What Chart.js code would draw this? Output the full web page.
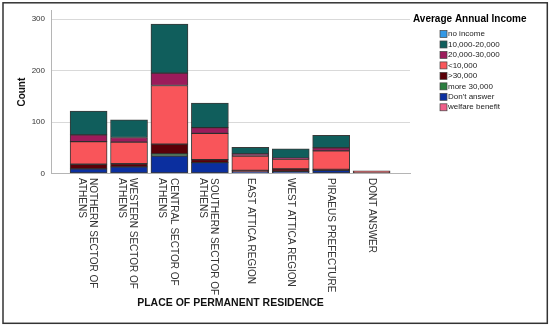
<!DOCTYPE html>
<html>
<head>
<meta charset="utf-8">
<script src="https://cdn.jsdelivr.net/npm/chart.js@4"></script>
<style>
  html, body { margin: 0; padding: 0; background: #fff; }
  canvas { display: block; }
</style>
</head>
<body>
<canvas id="grafico" width="550" height="327"></canvas>
<script>
// place of permanent residence, one entry per bar (lines of the rotated label)
const categorias = [
  ['NOTHERN SECTOR OF', 'ATHENS'],
  ['WESTERN SECTOR OF', 'ATHENS'],
  ['CENTRAL SECTOR OF', 'ATHENS'],
  ['SOUTHERN SECTOR OF', 'ATHENS'],
  ['EAST ATTICA REGION'],
  ['WEST ATTICA REGION'],
  ['PIRAEUS PREFECTURE'],
  ['DONT ANSWER']
];

// counts per income group
const welfareBenefit = [0, 0, 0, 0, 0, 0, 0, 0];
const dontAnswer     = [9, 13, 34, 21, 3, 4, 6, 0];
const more30000      = [0, 0, 4, 0, 0, 0, 0, 0];
const over30000      = [9, 6, 19, 6, 3, 5, 2, 0];
const under10000     = [44, 42, 114, 51, 28, 19, 36, 5];
const from20to30     = [13, 9, 24, 11, 4, 2, 6, 0];
const from10to20     = [46, 34, 95, 48, 13, 18, 24, 0];
const noIncome       = [0, 0, 0, 0, 0, 0, 0, 0];

const yTicks = [0, 100, 200, 300];

// legend order, top to bottom
const ordemLegenda = ['no income', '10,000-20,000', '20,000-30,000', '<10,000',
  '>30,000', 'more 30,000', "Don't answer", 'welfare benefit'];

function serie(label, valores, cor) {
  return {
    label: label,
    data: valores.map((v, i) => ({ x: i, y: v || null })),
    backgroundColor: cor,
    borderColor: 'rgba(35,35,35,0.9)',
    borderWidth: 1,
    borderSkipped: false,
    barThickness: 37
  };
}

// first dataset sits at the bottom of each stack
const datasets = [
  serie('welfare benefit', welfareBenefit, '#ef5f8a'),
  serie("Don't answer", dontAnswer, '#0b2f9f'),
  serie('more 30,000', more30000, '#2a7d3f'),
  serie('>30,000', over30000, '#5a0008'),
  serie('<10,000', under10000, '#f9555a'),
  serie('20,000-30,000', from20to30, '#9c1b5b'),
  serie('10,000-20,000', from10to20, '#105e5c'),
  serie('no income', noIncome, '#3399e6')
];

const FONTE = '"Liberation Sans", Arial, sans-serif';

const rotulosX = {
  id: 'rotulosX',
  afterDraw(chart) {
    const ctx = chart.ctx;
    const xs = chart.scales.x;
    const topo = chart.chartArea.bottom + 4.5;
    ctx.save();
    ctx.fillStyle = '#333';
    ctx.font = '10px ' + FONTE;
    ctx.textAlign = 'left';
    ctx.textBaseline = 'middle';
    categorias.forEach((linhas, i) => {
      const x = xs.getPixelForValue(i);
      linhas.forEach((txt, j) => {
        const cx = linhas.length > 1 ? x + 4 - j * 11.3 : x;
        ctx.save();
        ctx.translate(cx, topo);
        ctx.rotate(Math.PI / 2);
        ctx.fillText(txt, 0, 0);
        ctx.restore();
      });
    });
    ctx.restore();
  }
};

const legenda = {
  id: 'legenda',
  afterDraw(chart) {
    const ctx = chart.ctx;
    ctx.save();
    ctx.fillStyle = '#000';
    ctx.textAlign = 'left';
    ctx.textBaseline = 'middle';
    ctx.font = 'bold 10px ' + FONTE;
    ctx.fillText('Average Annual Income', 413, 19);
    ctx.font = '8px ' + FONTE;
    ordemLegenda.forEach((nome, i) => {
      const ds = chart.data.datasets.find(d => d.label === nome);
      const y = 34 + i * 10.47;
      ctx.fillStyle = ds.backgroundColor;
      ctx.fillRect(440, y - 3.5, 7, 7);
      ctx.strokeStyle = '#444';
      ctx.lineWidth = 0.7;
      ctx.strokeRect(440, y - 3.5, 7, 7);
      ctx.fillStyle = '#222';
      ctx.fillText(nome, 448, y);
    });
    // outer frame
    ctx.strokeStyle = '#333';
    ctx.lineWidth = 1.5;
    ctx.strokeRect(3, 2.8, 544.3, 320.5);
    ctx.restore();
  }
};

new Chart(document.getElementById('grafico').getContext('2d'), {
  type: 'bar',
  data: { datasets: datasets },
  plugins: [rotulosX, legenda],
  options: {
    responsive: false,
    animation: false,
    layout: { padding: { left: 3, top: 8, right: 140, bottom: 0 } },
    plugins: {
      legend: { display: false },
      tooltip: { enabled: false }
    },
    scales: {
      x: {
        type: 'linear',
        stacked: true,
        offset: false,
        min: -0.93,
        max: 7.95,
        grid: { display: false, drawTicks: false },
        border: { display: true, color: '#b5b5b5', width: 1 },
        ticks: { display: false },
        afterFit(s) { s.height = 153.5; },
        title: {
          display: true,
          text: 'PLACE OF PERMANENT RESIDENCE',
          color: '#111',
          font: { family: FONTE, size: 10.5, weight: 'bold' },
          padding: { top: 0, bottom: 17.7 }
        }
      },
      y: {
        stacked: true,
        min: 0,
        max: 316,
        afterBuildTicks(s) { s.ticks = yTicks.map(v => ({ value: v })); },
        afterFit(s) { s.width = 48; },
        grid: { color: '#d9d9d9', lineWidth: 1, drawTicks: false },
        border: { display: true, color: '#b5b5b5', width: 1 },
        ticks: {
          padding: 6,
          color: '#333',
          font: { family: FONTE, size: 8 }
        },
        title: {
          display: true,
          text: 'Count',
          color: '#111',
          font: { family: FONTE, size: 10, weight: 'bold' },
          padding: { top: 13, bottom: 0 }
        }
      }
    }
  }
});
</script>
</body>
</html>
